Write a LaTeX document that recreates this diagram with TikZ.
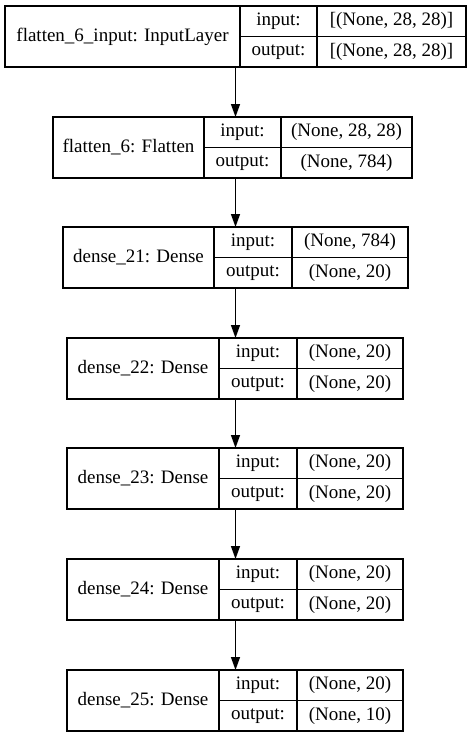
\documentclass[tikz,border=0pt]{standalone}
\usepackage{fontspec}
\setmainfont{Liberation Serif}
\usetikzlibrary{arrows.meta}
\tikzset{
    every node/.style = {draw, line width=1.3pt, inner sep=0pt, outer sep=0pt, anchor=north west, font=\fontsize{19}{22}\selectfont},
    link/.style = {-{Triangle[length=13pt, width=9pt]}, line width=1.3pt}
}

\begin{document}
\begin{tikzpicture}[x=1pt, y=-1pt]
    \useasboundingbox (0,0) rectangle (471,737);
    \foreach \i/\lname/\xa/\xb/\xc/\xd/\ytop/\vin/\vout in {
        0/{flatten\_6\_input: InputLayer}/5/240/317/466/6/{[(None, 28, 28)]}/{[(None, 28, 28)]},
        1/{flatten\_6: Flatten}/53/204/281/412/117/{(None, 28, 28)}/{(None, 784)},
        2/{dense\_21: Dense}/63/214/292/408/227/{(None, 784)}/{(None, 20)},
        3/{dense\_22: Dense}/67/219/297/403/338/{(None, 20)}/{(None, 20)},
        4/{dense\_23: Dense}/67/219/297/403/448/{(None, 20)}/{(None, 20)},
        5/{dense\_24: Dense}/67/219/297/403/559/{(None, 20)}/{(None, 20)},
        6/{dense\_25: Dense}/67/219/297/403/670/{(None, 20)}/{(None, 10)}}{
        \node[minimum width=\xb-\xa, minimum height=61] (name\i) at (\xa,\ytop) {\lname};
        \node[minimum width=\xc-\xb, minimum height=30.5] (in\i) at (\xb,\ytop) {input:};
        \node[minimum width=\xd-\xc, minimum height=30.5] (inv\i) at (\xc,\ytop) {\vin};
        \node[minimum width=\xc-\xb, minimum height=30.5] (out\i) at (\xb,\ytop+30.5) {output:};
        \node[minimum width=\xd-\xc, minimum height=30.5] (outv\i) at (\xc,\ytop+30.5) {\vout};
        \coordinate (t\i) at (235.5,\ytop);
        \coordinate (b\i) at (235.5,\ytop+61);
    }
    \foreach \i [count=\j from 0] in {1,...,6}
        \draw[link] (b\j) -- (t\i);
\end{tikzpicture}
\end{document}
